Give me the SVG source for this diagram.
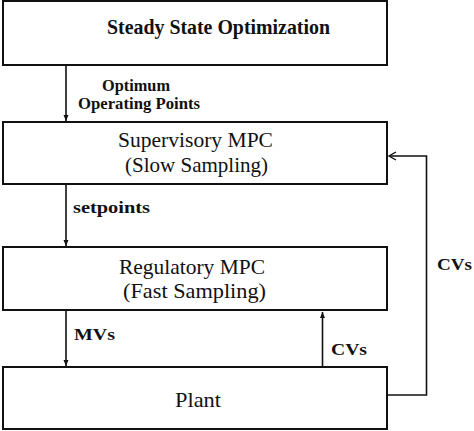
<svg xmlns="http://www.w3.org/2000/svg" width="474" height="431" viewBox="0 0 474 431">
<defs>
<style>
.box{fill:#fff;stroke:#111;stroke-width:2}
.t{font-family:"Liberation Serif",serif;font-size:21px;fill:#111}
.b{font-family:"Liberation Serif",serif;font-size:17px;font-weight:bold;fill:#111}
.c{fill:none;stroke:#111;stroke-width:1.6}
</style>
<marker id="ah" markerWidth="8" markerHeight="8" refX="7" refY="4" orient="auto" markerUnits="userSpaceOnUse"><path d="M1,1.5 L7,4 L1,6.5 Z" fill="#111"/></marker>
</defs>
<rect width="474" height="431" fill="#fff"/>
<g id="connectors">
<line class="c" x1="66" y1="65" x2="66" y2="121" marker-end="url(#ah)"/>
<line class="c" x1="66" y1="184" x2="66" y2="246" marker-end="url(#ah)"/>
<line class="c" x1="66" y1="310" x2="66" y2="366" marker-end="url(#ah)"/>
<line class="c" x1="322.5" y1="367" x2="322.5" y2="312" marker-end="url(#ah)"/>
<polyline class="c" points="388,395 426.5,395 426.5,156 390,156"/>
<path d="M396,152 L389,156 L396,160" fill="none" stroke="#111" stroke-width="1.4"/>
<text class="b" x="102" y="91" textLength="68" lengthAdjust="spacingAndGlyphs">Optimum</text>
<text class="b" x="78" y="108.5" textLength="122" lengthAdjust="spacingAndGlyphs">Operating Points</text>
<text class="b" x="73" y="213" textLength="77" lengthAdjust="spacingAndGlyphs">setpoints</text>
<text class="b" x="74" y="340" textLength="41" lengthAdjust="spacingAndGlyphs">MVs</text>
<text class="b" x="331" y="355" textLength="36" lengthAdjust="spacingAndGlyphs">CVs</text>
<text class="b" x="437" y="270" textLength="35" lengthAdjust="spacingAndGlyphs">CVs</text>
</g>
<g id="steady">
<rect class="box" x="3" y="1" width="384" height="64"/>
<text class="t" x="107" y="34" font-weight="bold" textLength="223" lengthAdjust="spacingAndGlyphs">Steady State Optimization</text>
</g>
<g id="supervisory">
<rect class="box" x="3" y="122" width="384" height="62"/>
<text class="t" x="118" y="147" textLength="155" lengthAdjust="spacingAndGlyphs">Supervisory MPC</text>
<text class="t" x="125" y="172" textLength="143" lengthAdjust="spacingAndGlyphs">(Slow Sampling)</text>
</g>
<g id="regulatory">
<rect class="box" x="3" y="247" width="384" height="63"/>
<text class="t" x="119" y="274" textLength="146" lengthAdjust="spacingAndGlyphs">Regulatory MPC</text>
<text class="t" x="123" y="298" textLength="143" lengthAdjust="spacingAndGlyphs">(Fast Sampling)</text>
</g>
<g id="plant">
<rect class="box" x="3" y="367" width="384" height="62"/>
<text class="t" x="175" y="407" textLength="46" lengthAdjust="spacingAndGlyphs">Plant</text>
</g>
</svg>
